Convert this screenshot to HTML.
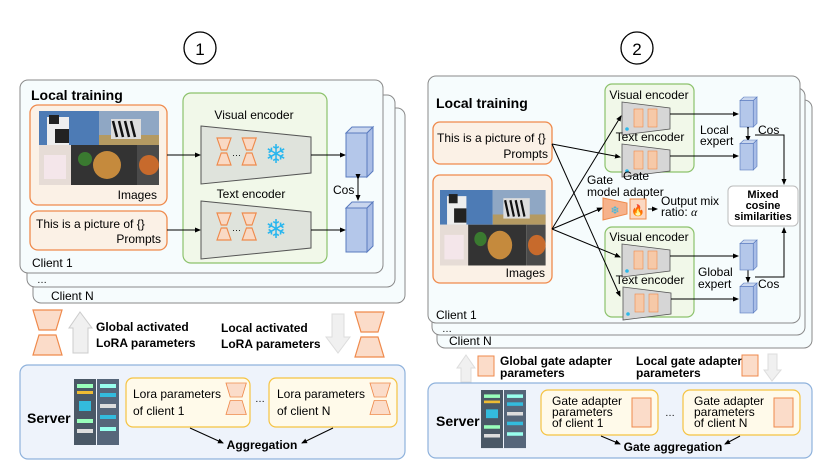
<!DOCTYPE html>
<html><head><meta charset="utf-8"><style>
html,body{margin:0;padding:0;background:#fff;}
svg{display:block;font-family:"Liberation Sans",sans-serif;}
</style></head><body>
<svg width="831" height="470" viewBox="0 0 831 470" xmlns="http://www.w3.org/2000/svg">
<defs>
<marker id="ah" markerWidth="6" markerHeight="6" refX="5" refY="3" orient="auto"><path d="M0,0.5 L6,3 L0,5.5z" fill="#000"/></marker>
<g id="collage">
 <rect x="0" y="0" width="60" height="34" fill="#4d7bb5"/>
 <rect x="8" y="6" width="22" height="28" fill="#eee"/><rect x="10" y="4" width="10" height="9" fill="#222"/><rect x="16" y="18" width="14" height="14" fill="#222"/>
 <rect x="60" y="0" width="60" height="34" fill="#8fa7c4"/><rect x="60" y="24" width="60" height="10" fill="#b49a62"/>
 <rect x="72" y="8" width="30" height="20" fill="#ddd"/><path d="M74 10 l4 16 M80 10 l4 16 M86 10 l4 16 M92 10 l4 16" stroke="#111" stroke-width="2.5"/>
 <rect x="0" y="34" width="32" height="40" fill="#e6dcd6"/><rect x="5" y="44" width="22" height="24" fill="#f4e6ea"/>
 <rect x="32" y="34" width="66" height="40" fill="#333"/><circle cx="68" cy="54" r="14" fill="#c58a3d"/><circle cx="46" cy="48" r="7" fill="#3a7a30"/>
 <rect x="98" y="34" width="22" height="40" fill="#4a4a4a"/><circle cx="110" cy="54" r="10" fill="#c76a2c"/>
</g>
<g id="hg">
 <path d="M0,0 H10 L7,8 H3 Z M3,10 H7 L10,18 H0 Z" fill="#f9d9c4" stroke="#ef8a4c" stroke-width="0.8"/>
</g>
<g id="cube">
 <path d="M0,6 L6,0 H27 L21,6 Z" fill="#c9d6ee" stroke="#5a7bbf" stroke-width="1"/>
 <path d="M21,6 L27,0 V44 L21,50 Z" fill="#a9bde6" stroke="#5a7bbf" stroke-width="1"/>
 <rect x="0" y="6" width="21" height="44" fill="#b4c7ea" stroke="#5a7bbf" stroke-width="1"/>
</g>
<g id="bighg">
 <path d="M0,0 H29 L23,20 H6 Z M6,25 H23 L29,45 H0 Z" fill="#fbdcc9" stroke="#ef8a4c" stroke-width="1.2"/>
</g>
<g id="server">
 <rect x="0" y="0" width="22" height="66" fill="#4a5866"/><rect x="23" y="0" width="22" height="66" fill="#56667a"/>
 <rect x="3" y="5" width="16" height="4" fill="#9fb"/><rect x="3" y="12" width="16" height="3" fill="#eb3"/><rect x="5" y="22" width="12" height="10" fill="#3bd"/>
 <rect x="3" y="40" width="16" height="4" fill="#9fb"/><rect x="3" y="50" width="16" height="4" fill="#ddd"/>
 <rect x="26" y="5" width="16" height="4" fill="#9fe"/><rect x="26" y="14" width="16" height="4" fill="#3bd"/><rect x="26" y="25" width="16" height="4" fill="#ddd"/><rect x="26" y="36" width="16" height="4" fill="#3bd"/><rect x="26" y="48" width="16" height="4" fill="#9fe"/>
</g>
<g id="smallenc">
 <path d="M0,0 L48,6 V27 L0,33 Z" fill="#d6d6d6" stroke="#555" stroke-width="0.8"/>
 <rect x="12" y="7" width="9" height="18" fill="#f6c9a8" stroke="#ef8a4c" stroke-width="0.6"/>
 <rect x="26" y="7" width="9" height="18" fill="#f6c9a8" stroke="#ef8a4c" stroke-width="0.6"/>
 <circle cx="5" cy="27" r="1.8" fill="#2cb8e8"/>
</g>
</defs>

<!-- circles -->
<circle cx="200" cy="48" r="16" fill="none" stroke="#000" stroke-width="1.3"/>
<text x="200" y="55" font-size="17" text-anchor="middle">1</text>
<circle cx="637" cy="48" r="16" fill="none" stroke="#000" stroke-width="1.3"/>
<text x="637" y="55" font-size="17" text-anchor="middle">2</text>

<!-- LEFT client stack -->
<rect x="33" y="108" width="372" height="195" rx="8" fill="#f6fcfd" stroke="#8a8a8a"/>
<rect x="27" y="95" width="368" height="192" rx="8" fill="#f6fcfd" stroke="#8a8a8a"/>
<rect x="20" y="80" width="363" height="193" rx="8" fill="#f6fcfd" stroke="#8a8a8a"/>
<text x="31" y="100" font-size="14" font-weight="bold">Local training</text>
<rect x="30" y="105" width="137" height="100" rx="8" fill="#fbf1e6" stroke="#ef8a4c" stroke-width="1.3"/>
<use href="#collage" x="39" y="111"/>
<text x="157" y="199" font-size="12" text-anchor="end">Images</text>
<rect x="30" y="211" width="137" height="39" rx="8" fill="#fbf1e6" stroke="#ef8a4c" stroke-width="1.3"/>
<text x="36" y="228" font-size="12">This is a picture of {}</text>
<text x="161" y="243" font-size="12" text-anchor="end">Prompts</text>
<rect x="183" y="93" width="144" height="170" rx="8" fill="#f1f8e9" stroke="#8cc26c" stroke-width="1.2"/>
<text x="254" y="119" font-size="12" text-anchor="middle">Visual encoder</text>
<path d="M201,126 L311,137 V173 L201,184 Z" fill="#dfe3dc" stroke="#555"/>
<text x="251" y="198" font-size="12" text-anchor="middle">Text encoder</text>
<path d="M201,201 L311,212 V248 L201,259 Z" fill="#dfe3dc" stroke="#555"/>
<g transform="translate(217,138)"><use href="#hg" transform="scale(1.4,1.5)"/><use href="#hg" x="18" transform="scale(1.4,1.5)"/></g>
<g transform="translate(217,213)"><use href="#hg" transform="scale(1.4,1.5)"/><use href="#hg" x="18" transform="scale(1.4,1.5)"/></g>
<text x="232" y="158" font-size="9">···</text><text x="232" y="233" font-size="9">···</text>
<text x="276" y="163" font-size="26" fill="#29b6ee" text-anchor="middle">❄</text>
<text x="276" y="238" font-size="26" fill="#29b6ee" text-anchor="middle">❄</text>
<line x1="167" y1="155" x2="200" y2="155" stroke="#000" marker-end="url(#ah)"/>
<line x1="167" y1="230" x2="200" y2="230" stroke="#000" marker-end="url(#ah)"/>
<line x1="311" y1="155" x2="345" y2="155" stroke="#000" marker-end="url(#ah)"/>
<line x1="311" y1="230" x2="345" y2="230" stroke="#000" marker-end="url(#ah)"/>
<use href="#cube" x="346" y="127"/>
<use href="#cube" x="346" y="202"/>
<line x1="358" y1="179" x2="358" y2="200" stroke="#000" marker-end="url(#ah)" marker-start="url(#ah)"/>
<text x="333" y="194" font-size="12">Cos</text>
<text x="32" y="267" font-size="12">Client 1</text>
<text x="37" y="283" font-size="10">…</text>
<text x="51" y="300" font-size="12">Client N</text>

<use href="#bighg" x="33" y="310"/>
<path d="M73,353 V328 H69 L80,312 L92,328 H88 V353 Z" fill="#f0f0f0" stroke="#ccc"/>
<text x="96" y="331" font-size="12" font-weight="bold">Global  activated</text>
<text x="96" y="347" font-size="12" font-weight="bold">LoRA parameters</text>
<text x="221" y="332" font-size="12" font-weight="bold">Local activated</text>
<text x="221" y="348" font-size="12" font-weight="bold">LoRA parameters</text>
<path d="M332,314 V337 H326 L338,353 L350,337 H344 V314 Z" fill="#f0f0f0" stroke="#ddd"/>
<use href="#bighg" x="355" y="312"/>

<rect x="20" y="365" width="385" height="94" rx="8" fill="#eef3fb" stroke="#8fb2dc" stroke-width="1.2"/>
<text x="27" y="423" font-size="14" font-weight="bold">Server</text>
<use href="#server" x="74" y="379"/>
<rect x="126" y="378" width="124" height="49" rx="7" fill="#fffaea" stroke="#f5c342" stroke-width="1.2"/>
<text x="133" y="398" font-size="12">Lora parameters</text><text x="133" y="415" font-size="12">of client 1</text>
<use href="#bighg" x="226" y="383" transform="translate(226,383) scale(0.7) translate(-226,-383)"/>
<text x="260" y="402" font-size="10" text-anchor="middle">…</text>
<rect x="269" y="378" width="128" height="49" rx="7" fill="#fffaea" stroke="#f5c342" stroke-width="1.2"/>
<text x="277" y="398" font-size="12">Lora parameters</text><text x="277" y="415" font-size="12">of client N</text>
<use href="#bighg" x="370" y="383" transform="translate(370,383) scale(0.7) translate(-370,-383)"/>
<line x1="190" y1="428" x2="223" y2="443" stroke="#000" marker-end="url(#ah)"/>
<line x1="333" y1="428" x2="302" y2="443" stroke="#000" marker-end="url(#ah)"/>
<text x="262" y="449" font-size="12" font-weight="bold" text-anchor="middle">Aggregation</text>

<!-- RIGHT client stack -->
<rect x="437" y="100" width="375" height="248" rx="8" fill="#f6fcfd" stroke="#8a8a8a"/>
<rect x="432" y="88" width="373" height="247" rx="8" fill="#f6fcfd" stroke="#8a8a8a"/>
<rect x="428" y="76" width="372" height="247" rx="8" fill="#f6fcfd" stroke="#8a8a8a"/>
<text x="436" y="108" font-size="14" font-weight="bold">Local training</text>
<rect x="433" y="122" width="119" height="42" rx="7" fill="#fbf1e6" stroke="#ef8a4c" stroke-width="1.3"/>
<text x="437" y="142" font-size="12">This is a picture of {}</text>
<text x="548" y="158" font-size="12" text-anchor="end">Prompts</text>
<rect x="433" y="175" width="119" height="108" rx="7" fill="#fbf1e6" stroke="#ef8a4c" stroke-width="1.3"/>
<g transform="translate(440,190) scale(0.88,1.02)"><use href="#collage"/></g>
<text x="545" y="277" font-size="12" text-anchor="end">Images</text>

<rect x="605" y="84" width="89" height="88" rx="7" fill="#f1f8e9" stroke="#8cc26c" stroke-width="1.2"/>
<text x="649" y="99" font-size="12" text-anchor="middle">Visual encoder</text>
<use href="#smallenc" x="622" y="102"/>
<text x="650" y="141" font-size="12" text-anchor="middle">Text encoder</text>
<use href="#smallenc" x="622" y="144"/>
<rect x="605" y="227" width="89" height="90" rx="7" fill="#f1f8e9" stroke="#8cc26c" stroke-width="1.2"/>
<text x="649" y="241" font-size="12" text-anchor="middle">Visual encoder</text>
<use href="#smallenc" x="622" y="244"/>
<text x="650" y="284" font-size="12" text-anchor="middle">Text encoder</text>
<use href="#smallenc" x="623" y="287"/>

<!-- connectors from prompts/images -->
<g stroke="#000" stroke-width="1" fill="none">
<line x1="552" y1="144" x2="620" y2="157" marker-end="url(#ah)"/>
<line x1="552" y1="144" x2="620" y2="296" marker-end="url(#ah)"/>
<line x1="552" y1="229" x2="621" y2="116" marker-end="url(#ah)"/>
<line x1="552" y1="229" x2="602" y2="208" marker-end="url(#ah)"/>
<line x1="552" y1="229" x2="620" y2="257" marker-end="url(#ah)"/>
<line x1="670" y1="114" x2="738" y2="114" marker-end="url(#ah)"/>
<line x1="670" y1="156" x2="738" y2="156" marker-end="url(#ah)"/>
<line x1="670" y1="256" x2="738" y2="256" marker-end="url(#ah)"/>
<line x1="671" y1="299" x2="738" y2="299" marker-end="url(#ah)"/>
<line x1="648" y1="209" x2="657" y2="209" marker-end="url(#ah)"/>
<polyline points="755,135 784,135 784,184" marker-end="url(#ah)"/>
<polyline points="755,277 784,277 784,228" marker-end="url(#ah)"/>
<line x1="748" y1="129" x2="748" y2="141" marker-end="url(#ah)" marker-start="url(#ah)"/>
<line x1="748" y1="270" x2="748" y2="282" marker-end="url(#ah)" marker-start="url(#ah)"/>
</g>
<g transform="translate(740,97) scale(0.63,0.6)"><use href="#cube"/></g>
<g transform="translate(740,140) scale(0.63,0.6)"><use href="#cube"/></g>
<g transform="translate(740,240) scale(0.63,0.6)"><use href="#cube"/></g>
<g transform="translate(740,283) scale(0.63,0.6)"><use href="#cube"/></g>
<text x="700" y="134" font-size="12">Local</text><text x="700" y="145" font-size="12">expert</text>
<text x="758" y="134" font-size="12">Cos</text>
<text x="698" y="276" font-size="12">Global</text><text x="698" y="288" font-size="12">expert</text>
<text x="758" y="288" font-size="12">Cos</text>
<rect x="728" y="186" width="70" height="40" rx="5" fill="#fff" stroke="#bbb"/>
<text x="763" y="198" font-size="11" font-weight="bold" text-anchor="middle">Mixed</text>
<text x="763" y="209" font-size="11" font-weight="bold" text-anchor="middle">cosine</text>
<text x="763" y="220" font-size="11" font-weight="bold" text-anchor="middle">similarities</text>

<text x="587" y="184" font-size="12">Gate</text>
<text x="623" y="180" font-size="12">Gate</text>
<text x="587" y="196" font-size="12">model adapter</text>
<path d="M603,198 L627,203 V214 L603,220 Z" fill="#f6b28b" stroke="#ef8a4c"/>
<text x="615" y="214" font-size="11" fill="#2cb8e8" text-anchor="middle">❄</text>
<rect x="630" y="199" width="16" height="20" fill="#fbd8c2" stroke="#ef8a4c"/>
<text x="638" y="214" font-size="11" fill="#e94b1b" text-anchor="middle">🔥</text>
<text x="661" y="205" font-size="12">Output mix</text>
<text x="661" y="216" font-size="12">ratio: <tspan font-style="italic" font-family="Liberation Serif">α</tspan></text>

<text x="436" y="319" font-size="12">Client 1</text>
<text x="442" y="332" font-size="10">…</text>
<text x="449" y="345" font-size="12">Client N</text>

<path d="M461,382 V368 H457 L466,355 L475,368 H471 V382 Z" fill="#f0f0f0" stroke="#ddd"/>
<rect x="478" y="356" width="16" height="20" fill="#fbdcc9" stroke="#ef8a4c"/>
<text x="500" y="365" font-size="12" font-weight="bold">Global gate adapter</text>
<text x="500" y="377" font-size="12" font-weight="bold">parameters</text>
<text x="636" y="365" font-size="12" font-weight="bold">Local gate adapter</text>
<text x="636" y="377" font-size="12" font-weight="bold">parameters</text>
<rect x="742" y="355" width="16" height="21" fill="#fbdcc9" stroke="#ef8a4c"/>
<path d="M768,354 V370 H764 L772,381 L781,370 H777 V354 Z" fill="#f0f0f0" stroke="#ddd"/>

<rect x="428" y="383" width="384" height="75" rx="8" fill="#eef3fb" stroke="#8fb2dc" stroke-width="1.2"/>
<text x="436" y="426" font-size="14" font-weight="bold">Server</text>
<g transform="translate(481,390) scale(1,0.88)"><use href="#server"/></g>
<rect x="541" y="390" width="117" height="45" rx="7" fill="#fffaea" stroke="#f5c342" stroke-width="1.2"/>
<text x="552" y="405" font-size="12">Gate adapter</text><text x="552" y="416" font-size="12">parameters</text><text x="552" y="427" font-size="12">of client 1</text>
<rect x="632" y="398" width="19" height="29" fill="#fbdcc9" stroke="#ef8a4c"/>
<text x="670" y="416" font-size="10" text-anchor="middle">…</text>
<rect x="683" y="390" width="117" height="45" rx="7" fill="#fffaea" stroke="#f5c342" stroke-width="1.2"/>
<text x="694" y="405" font-size="12">Gate adapter</text><text x="694" y="416" font-size="12">parameters</text><text x="694" y="427" font-size="12">of client N</text>
<rect x="774" y="398" width="19" height="29" fill="#fbdcc9" stroke="#ef8a4c"/>
<line x1="601" y1="436" x2="620" y2="444" stroke="#000" marker-end="url(#ah)"/>
<line x1="740" y1="436" x2="725" y2="444" stroke="#000" marker-end="url(#ah)"/>
<text x="673" y="451" font-size="12" font-weight="bold" text-anchor="middle">Gate aggregation</text>
</svg>
</body></html>
